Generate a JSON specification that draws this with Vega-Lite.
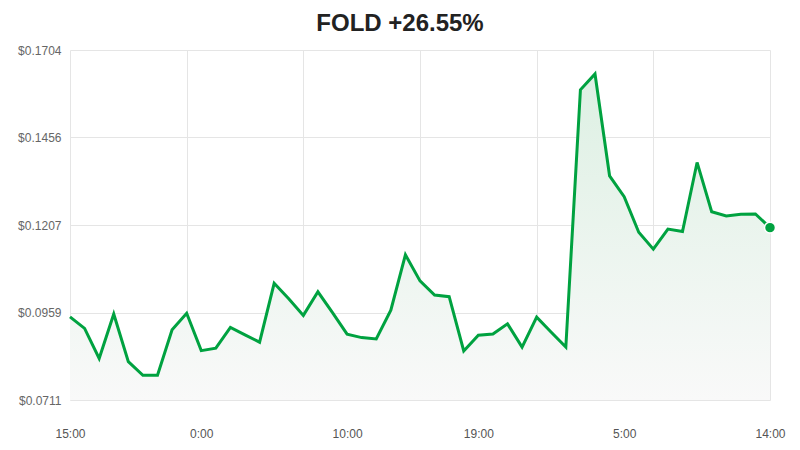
{
  "$schema": "https://vega.github.io/schema/vega-lite/v6.json",
  "width": 700,
  "height": 350,
  "autosize": {"type": "none"},
  "padding": {"left": 70, "top": 50, "right": 30, "bottom": 50},
  "background": "#ffffff",
  "config": {
    "font": "Liberation Sans",
    "view": {"stroke": null}
  },
  "title": {
    "text": "FOLD +26.55%",
    "fontSize": 24,
    "fontWeight": "bold",
    "color": "#222222",
    "font": "Liberation Sans",
    "anchor": "middle",
    "frame": "group",
    "dx": -20,
    "baseline": "alphabetic",
    "offset": 17,
    "dy": 28
  },
  "data": {
    "values": [
      {"i": 0, "price": 0.0947},
      {"i": 1, "price": 0.0914},
      {"i": 2, "price": 0.0829},
      {"i": 3, "price": 0.0955},
      {"i": 4, "price": 0.0820},
      {"i": 5, "price": 0.0781},
      {"i": 6, "price": 0.0781},
      {"i": 7, "price": 0.0910},
      {"i": 8, "price": 0.0957},
      {"i": 9, "price": 0.0851},
      {"i": 10, "price": 0.0858},
      {"i": 11, "price": 0.0917},
      {"i": 12, "price": 0.0896},
      {"i": 13, "price": 0.0875},
      {"i": 14, "price": 0.1042},
      {"i": 15, "price": 0.0998},
      {"i": 16, "price": 0.0951},
      {"i": 17, "price": 0.1018},
      {"i": 18, "price": 0.0959},
      {"i": 19, "price": 0.0898},
      {"i": 20, "price": 0.0888},
      {"i": 21, "price": 0.0884},
      {"i": 22, "price": 0.0966},
      {"i": 23, "price": 0.1123},
      {"i": 24, "price": 0.1049},
      {"i": 25, "price": 0.1009},
      {"i": 26, "price": 0.1004},
      {"i": 27, "price": 0.0850},
      {"i": 28, "price": 0.0895},
      {"i": 29, "price": 0.0898},
      {"i": 30, "price": 0.0927},
      {"i": 31, "price": 0.0861},
      {"i": 32, "price": 0.0946},
      {"i": 33, "price": 0.0903},
      {"i": 34, "price": 0.0861},
      {"i": 35, "price": 0.1591},
      {"i": 36, "price": 0.1636},
      {"i": 37, "price": 0.1347},
      {"i": 38, "price": 0.1288},
      {"i": 39, "price": 0.1187},
      {"i": 40, "price": 0.1139},
      {"i": 41, "price": 0.1196},
      {"i": 42, "price": 0.1189},
      {"i": 43, "price": 0.1385},
      {"i": 44, "price": 0.1245},
      {"i": 45, "price": 0.1233},
      {"i": 46, "price": 0.1238},
      {"i": 47, "price": 0.1239},
      {"i": 48, "price": 0.1200}
    ]
  },
  "encoding": {
    "x": {
      "field": "i",
      "type": "quantitative",
      "scale": {"domain": [0, 48], "nice": false, "zero": false},
      "axis": {
        "title": null,
        "values": [0, 8, 9, 16, 19, 24, 28, 32, 38, 40, 48],
        "labelExpr": "datum.value == 0 ? '15:00' : datum.value == 9 ? '0:00' : datum.value == 19 ? '10:00' : datum.value == 28 ? '19:00' : datum.value == 38 ? '5:00' : datum.value == 48 ? '14:00' : ''",
        "grid": true,
        "gridColor": "#e5e5e5",
        "gridWidth": 1,
        "gridOpacity": {"condition": {"test": "datum.value % 8 == 0", "value": 1}, "value": 0},
        "ticks": false,
        "tickSize": 0,
        "domain": false,
        "labelPadding": 28,
        "labelFontSize": 12,
        "labelColor": "#555555",
        "labelFont": "Liberation Sans",
        "labelOverlap": false,
        "labelFlush": false
      }
    },
    "y": {
      "field": "price",
      "type": "quantitative",
      "scale": {"domain": [0.0711, 0.1704], "nice": false, "zero": false},
      "axis": {
        "title": null,
        "values": [0.0711, 0.0959, 0.1207, 0.1456, 0.1704],
        "format": "$.4f",
        "grid": true,
        "gridColor": "#e5e5e5",
        "ticks": false,
        "tickSize": 0,
        "domain": false,
        "labelPadding": 9,
        "labelFontSize": 12,
        "labelColor": "#666666",
        "labelFont": "Liberation Sans"
      }
    }
  },
  "layer": [
    {
      "mark": {
        "type": "area",
        "fill": {
          "gradient": "linear",
          "x1": 0, "y1": 0, "x2": 0, "y2": 1,
          "stops": [
            {"offset": 0, "color": "#ddf0e3"},
            {"offset": 1, "color": "#f9f9f9"}
          ]
        }
      },
      "encoding": {
        "y2": {"datum": 0.0711}
      }
    },
    {
      "mark": {"type": "line", "color": "#00a240", "strokeWidth": 3, "strokeJoin": "miter"},
      "encoding": {}
    },
    {
      "transform": [{"filter": "datum.i == 48"}],
      "mark": {"type": "point", "filled": true, "color": "#00a240", "size": 120, "stroke": "#ffffff", "strokeWidth": 1.5, "opacity": 1},
      "encoding": {}
    }
  ]
}
